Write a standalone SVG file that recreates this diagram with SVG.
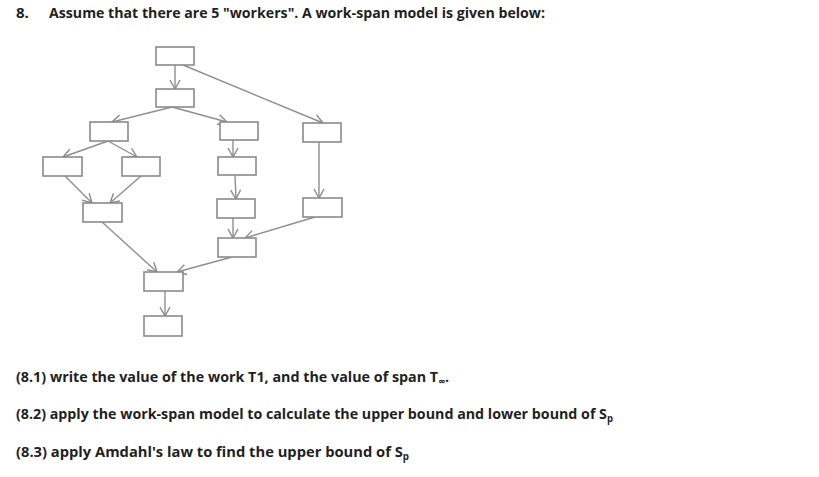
<svg xmlns="http://www.w3.org/2000/svg" width="819" height="477" viewBox="0 0 819 477">
<defs>
<marker id="arr" markerUnits="userSpaceOnUse" markerWidth="14" markerHeight="14" refX="10" refY="6" orient="auto">
<path d="M1,1 L10,6 L1,11" fill="none" stroke="#8a8a8a" stroke-width="1.4"/>
</marker>
<style>
.n rect{fill:#fff;stroke:#8a8a8a;stroke-width:1.6}
.e line{stroke:#8f8f8f;stroke-width:1.4;marker-end:url(#arr)}
.t{font-family:"Open Sans","Noto Sans","Liberation Sans",sans-serif;font-weight:bold;fill:#1f1f1f;font-size:15px}
.s{font-size:10px}
</style>
</defs>
<rect width="819" height="477" fill="#fff"/>
<text class="t" x="16" y="18">8.</text>
<text class="t" x="49" y="18" textLength="496" lengthAdjust="spacingAndGlyphs">Assume that there are 5 "workers". A work-span model is given below:</text>
<g class="e" id="edges">
<line x1="175" y1="65" x2="175" y2="89"/>
<line x1="183" y1="65" x2="323" y2="123"/>
<line x1="172" y1="107" x2="112" y2="122"/>
<line x1="172" y1="107" x2="227" y2="122"/>
<line x1="108" y1="141" x2="63" y2="157"/>
<line x1="108" y1="141" x2="137" y2="157"/>
<line x1="65" y1="176" x2="92" y2="203"/>
<line x1="141" y1="176" x2="110" y2="203"/>
<line x1="102" y1="222" x2="157" y2="272"/>
<line x1="233" y1="140" x2="233" y2="157"/>
<line x1="235" y1="175" x2="236" y2="199"/>
<line x1="233" y1="218" x2="233" y2="238"/>
<line x1="319" y1="142" x2="319" y2="198"/>
<line x1="315" y1="217" x2="245" y2="238"/>
<line x1="232" y1="257" x2="177" y2="272"/>
<line x1="165" y1="291" x2="165" y2="316"/>
</g>
<g class="n" id="n_top"><rect x="156" y="47" width="38" height="18"/></g>
<g class="n" id="n_2"><rect x="156" y="89" width="38" height="18"/></g>
<g class="n" id="n_l1"><rect x="90" y="122" width="38" height="19"/></g>
<g class="n" id="n_ll"><rect x="43" y="157" width="39" height="19"/></g>
<g class="n" id="n_lr"><rect x="122" y="157" width="38" height="19"/></g>
<g class="n" id="n_lm"><rect x="83" y="203" width="39" height="19"/></g>
<g class="n" id="n_m1"><rect x="220" y="122" width="38" height="18"/></g>
<g class="n" id="n_m2"><rect x="218" y="157" width="38" height="18"/></g>
<g class="n" id="n_m3"><rect x="217" y="199" width="38" height="19"/></g>
<g class="n" id="n_m4"><rect x="218" y="238" width="38" height="19"/></g>
<g class="n" id="n_r1"><rect x="303" y="123" width="38" height="19"/></g>
<g class="n" id="n_r2"><rect x="303" y="198" width="39" height="19"/></g>
<g class="n" id="n_join"><rect x="144" y="272" width="39" height="19"/></g>
<g class="n" id="n_bottom"><rect x="144" y="316" width="38" height="20"/></g>
<text class="t" x="16" y="382" textLength="433" lengthAdjust="spacingAndGlyphs">(8.1) write the value of the work T1, and the value of span T<tspan class="s" dy="3">∞</tspan><tspan dy="-3">.</tspan></text>
<text class="t" x="16" y="419" textLength="597" lengthAdjust="spacingAndGlyphs">(8.2) apply the work-span model to calculate the upper bound and lower bound of S<tspan class="s" dy="3">p</tspan></text>
<text class="t" x="16" y="457" textLength="393" lengthAdjust="spacingAndGlyphs">(8.3) apply Amdahl's law to find the upper bound of S<tspan class="s" dy="3">p</tspan></text>
</svg>
